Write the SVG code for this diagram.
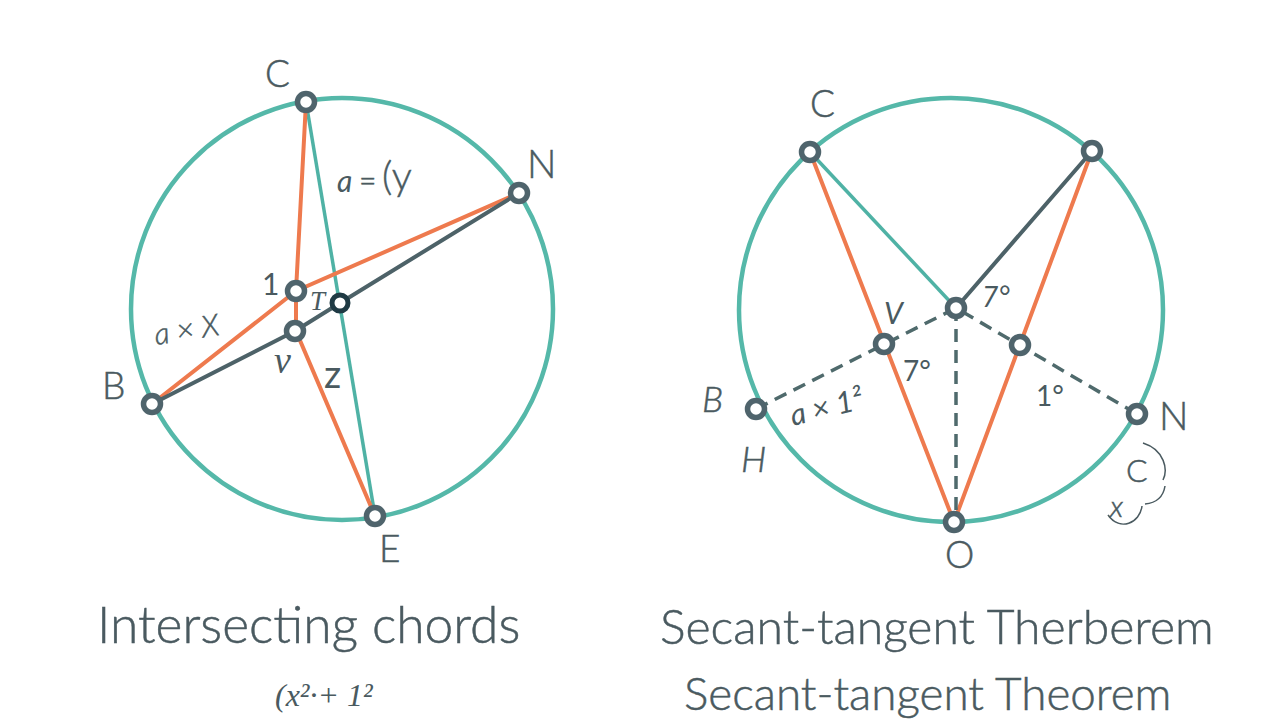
<svg xmlns="http://www.w3.org/2000/svg" width="1280" height="720" viewBox="0 0 1280 720">
<style>
.t{fill:#4a5a60;font-family:Lato,"Open Sans",sans-serif}
.u{font-weight:300;stroke:#4a5a60;stroke-width:.5}
.l{font-size:37px}
.i{font-style:italic;font-size:30px}
.m{font-size:28px;font-style:italic;font-family:"Liberation Serif",serif}
.h{font-size:51.5px}
.c{fill:none;stroke:#55b8a9;stroke-width:4.5}
.o{fill:none;stroke:#ee7a4e;stroke-width:4;stroke-linecap:round}
.g{fill:none;stroke:#4d6268;stroke-width:4;stroke-linecap:round}
.tl{fill:none;stroke:#4fb2a5;stroke-width:3.5}
.d{fill:none;stroke:#4f6a6c;stroke-width:3.5;stroke-dasharray:13 8}
.n{fill:#fff;stroke:#4f646c;stroke-width:5.5}
</style>
<rect width="1280" height="720" fill="#fff"/>
<g id="connectors">
<circle class="c" cx="342" cy="309" r="211"/>
<circle class="c" cx="951" cy="310" r="212"/>
<path class="tl" d="M306 102L375 516"/>
<path class="o" d="M306 102L296 291M296 291V331L375 516"/>
<path class="o" d="M152 404L296 291L519 193"/>
<path class="g" d="M152 404L295 331M295 331L340 303M340 303L519 193"/>
<path class="tl" d="M810 152L956 308"/>
<path class="g" d="M1092 151L956 308"/>
<path class="o" d="M810 152L954 522L1092 151"/>
<path class="d" d="M756 409L956 308L1137 414"/>
<path class="d" d="M956 308V522"/>
<path fill="none" stroke="#4a5a60" stroke-width="1.5" d="M1143 443C1165 450 1168 470 1163 480M1165 486C1163 499 1155 503 1145 504M1142 506C1140 523 1120 532 1108 515"/>
</g>
<g id="node-c1"><circle class="n" cx="306" cy="102" r="8.5"/><text class="t u l" x="265" y="87">C</text></g>
<g id="node-n1"><circle class="n" cx="519" cy="193" r="8.5"/><text class="t u" style="font-size:39px" x="527" y="178">N</text></g>
<g id="node-b1"><circle class="n" cx="152" cy="404" r="8.5"/><text class="t u l" x="102" y="399">B</text></g>
<g id="node-e1"><circle class="n" cx="375" cy="516" r="8.5"/><text class="t u l" x="379" y="562">E</text></g>
<g id="node-j1"><circle class="n" cx="296" cy="291" r="8.5"/><text class="t" style="font-size:30px" x="262" y="295">1</text></g>
<g id="node-v1"><circle class="n" cx="295" cy="331" r="8.5"/><text class="t m" style="font-size:38px;font-weight:400" x="274" y="373">v</text></g>
<g id="node-p1"><circle cx="340" cy="303" r="8" fill="#fff" stroke="#1f3a44" stroke-width="5"/><text class="t m" style="font-size:27px" x="310" y="310">T</text></g>
<g id="labels-left">
<text class="t i" x="337" y="192">a</text><text class="t u" style="font-size:30px" x="359" y="191">=</text><text class="t u" style="font-size:40px" x="382" y="190">(y</text>
<text class="t u i" x="156" y="345" transform="rotate(-9 156 345)">a × X</text>
<text class="t" style="font-size:38px" x="324" y="388">z</text>
<text class="t u h" x="97" y="643">Intersecting chords</text>
<text class="t m" x="275" y="706" style="font-size:32px">(x²·+ 1²</text>
</g>
<g id="node-c2"><circle class="n" cx="810" cy="152" r="8.5"/><text class="t u l" x="810" y="117">C</text></g>
<g id="node-r2"><circle class="n" cx="1092" cy="151" r="8.5"/></g>
<g id="node-m2"><circle class="n" cx="956" cy="308" r="8.5"/><text class="t i" style="font-size:28px" x="982" y="307">7°</text></g>
<g id="node-v2"><circle class="n" cx="884" cy="344" r="8.5"/><text class="t i" x="884" y="324">V</text></g>
<g id="node-s2"><circle class="n" cx="1020" cy="345" r="8.5"/><text class="t" style="font-size:28px" x="1036" y="406">1°</text></g>
<g id="node-b2"><circle class="n" cx="756" cy="409" r="8.5"/><text class="t u i" style="font-size:36px" x="702" y="412">B</text><text class="t u i" style="font-size:36px" x="741" y="472">H</text></g>
<g id="node-n2"><circle class="n" cx="1137" cy="414" r="8.5"/><text class="t u" style="font-size:39px" x="1159" y="430">N</text></g>
<g id="node-o2"><circle class="n" cx="954" cy="522" r="8.5"/><text class="t u l" x="945" y="568">O</text></g>
<g id="labels-right">
<text class="t i" style="font-size:30px" x="793" y="426" transform="rotate(-14 793 426)">a × 1²</text>
<text class="t" style="font-size:28px" x="903" y="381">7°</text>
<text class="t u" style="font-size:32px" x="1126" y="482">C</text>
<text class="t u i" style="font-size:30px" x="1110" y="517">x</text>
<text class="t u h" x="660" y="644" style="font-size:48.1px">Secant-tangent Therberem</text>
<text class="t u h" x="684" y="710" style="font-size:45.8px">Secant-tangent Theorem</text>
</g>
</svg>
